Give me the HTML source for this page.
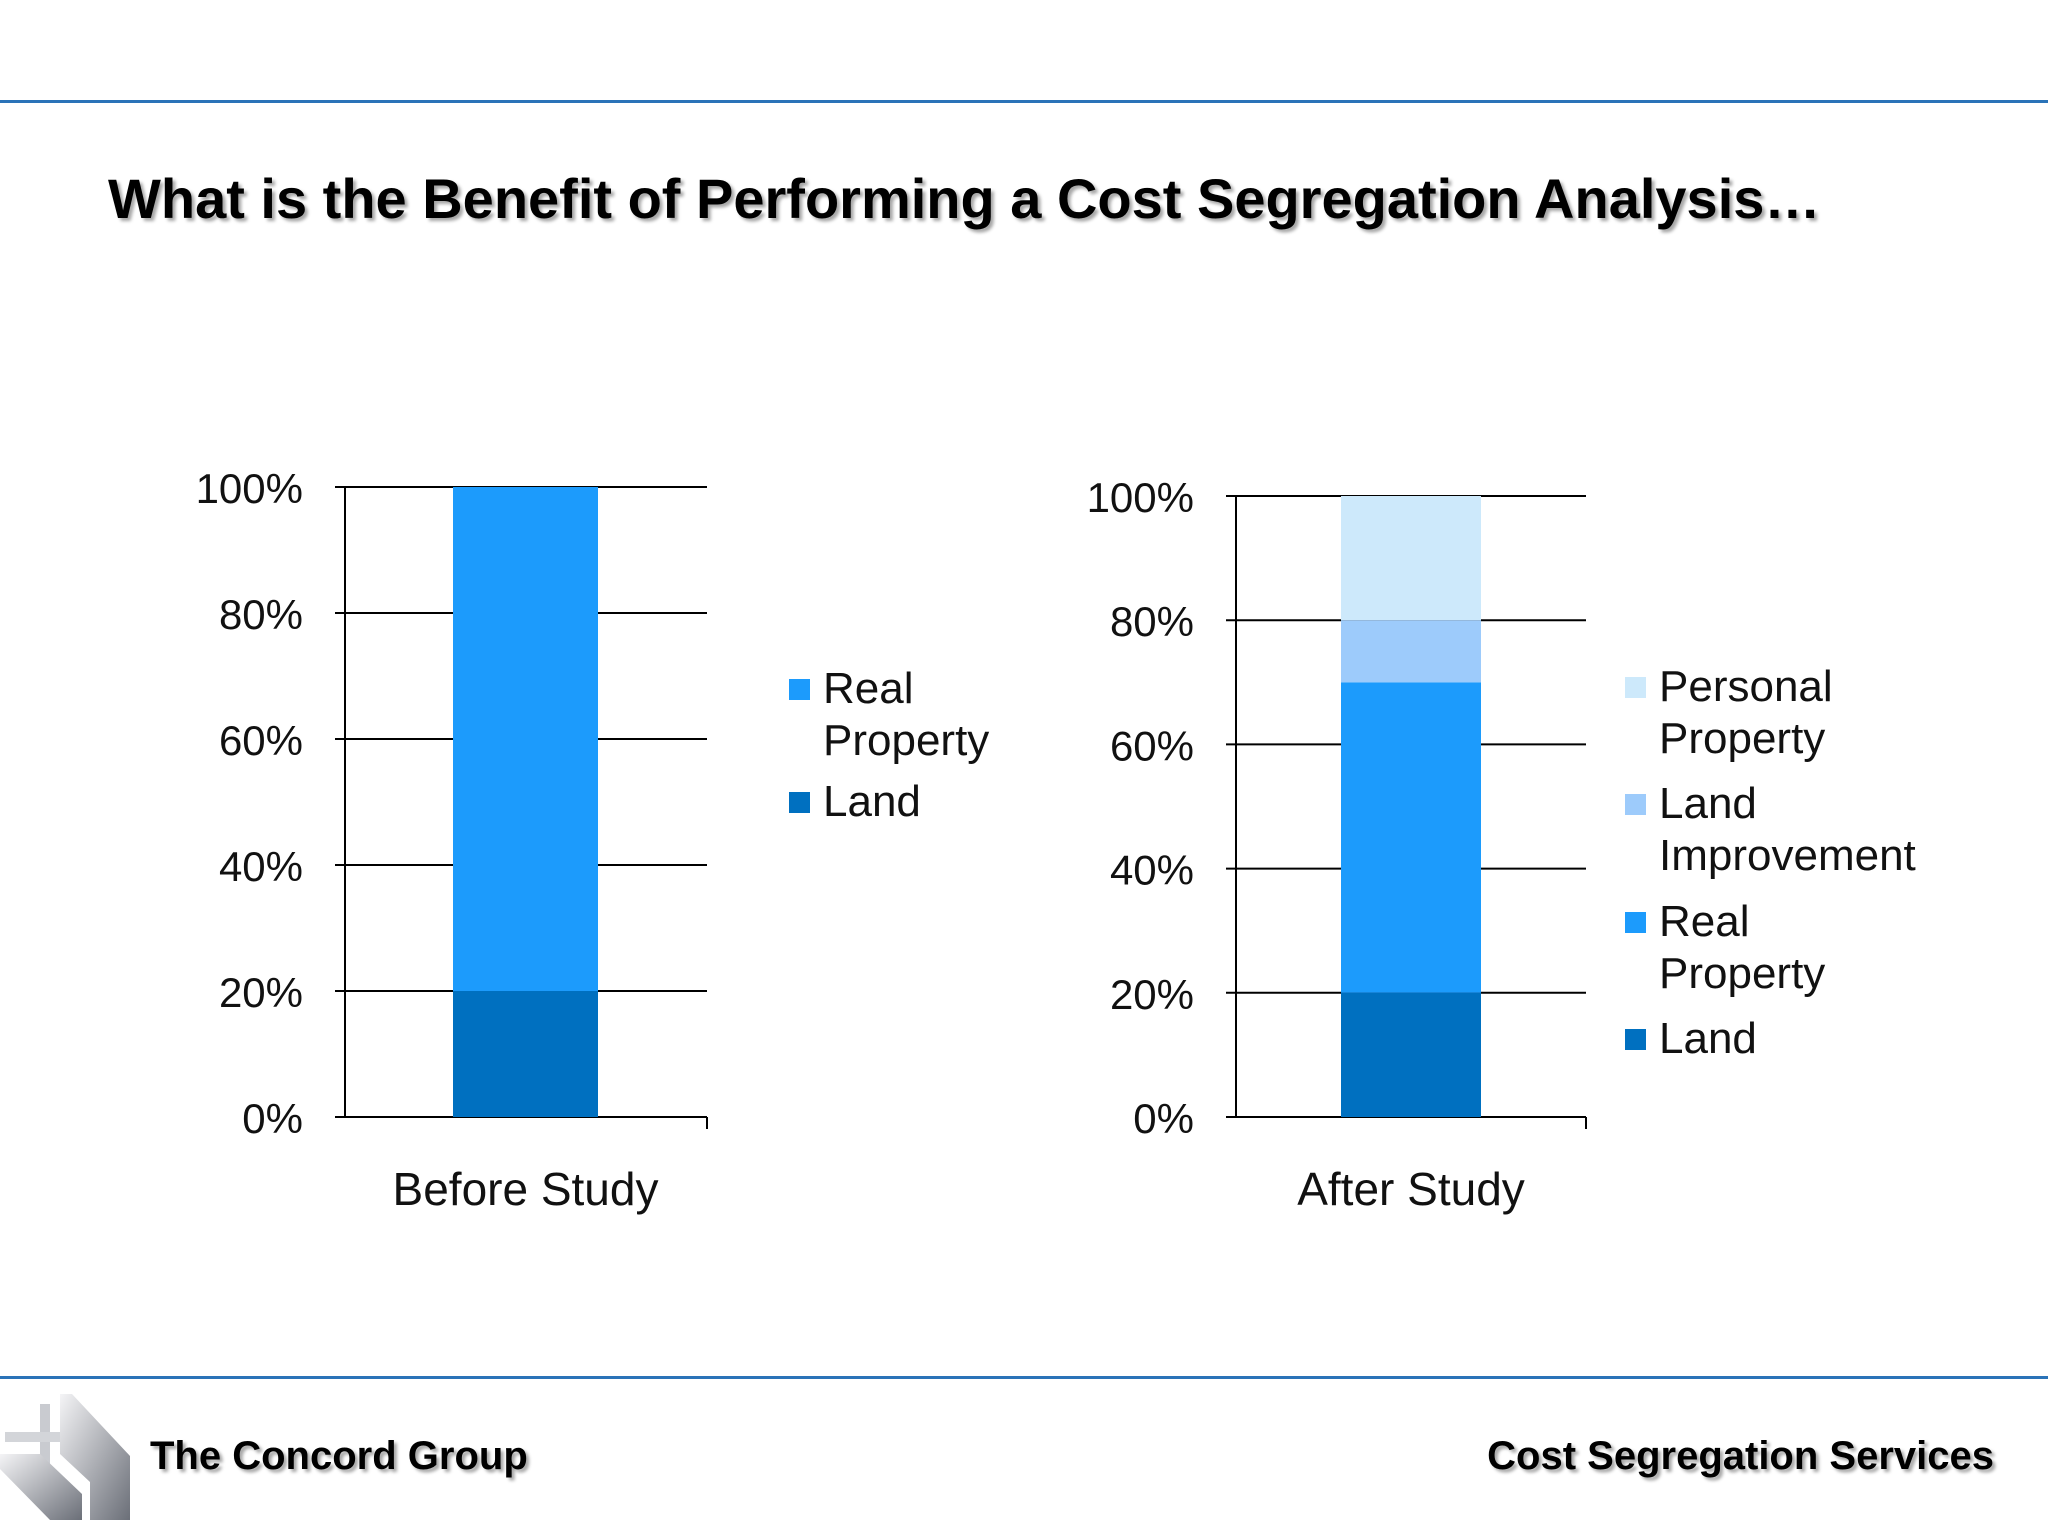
<!DOCTYPE html>
<html><head><meta charset="utf-8">
<style>
html,body{margin:0;padding:0;background:#fff;}
body{width:2048px;height:1536px;overflow:hidden;position:relative;font-family:"Liberation Sans","DejaVu Sans",sans-serif;}
.t{position:absolute;white-space:nowrap;}
</style></head>
<body>
<div style="position:absolute;left:0;top:100px;width:2048px;height:3px;background:#2a73b8"></div>
<div class="t" style="left:108px;top:166px;font-size:56px;font-weight:bold;letter-spacing:0px;text-shadow:3px 3px 3px rgba(0,0,0,0.35)">What is the Benefit of Performing a Cost Segregation Analysis…</div>
<svg id="chart" width="2048" height="1536" style="position:absolute;left:0;top:0" font-family="Liberation Sans, DejaVu Sans, sans-serif"></svg>
<div style="position:absolute;left:0;top:1376px;width:2048px;height:3px;background:#2a73b8"></div>
<svg width="135" height="130" style="position:absolute;left:0;top:1394px">
<defs><linearGradient id="lg" x1="0" y1="0" x2="1" y2="1"><stop offset="0" stop-color="#f4f4f6"/><stop offset="1" stop-color="#6b6f78"/></linearGradient></defs>
<polygon points="40,10 50,10 50,115 40,115" fill="#c9cbd0"/>
<polygon points="5,38 80,38 80,48 5,48" fill="#d3d5d9"/>
<polygon points="72,0 130,62 130,126 90,126 90,88 60,60 60,0" fill="url(#lg)"/>
<polygon points="0,60 40,60 82,100 82,126 50,126 0,75" fill="url(#lg)"/>
</svg>
<div class="t" style="left:150px;top:1434px;font-size:40px;font-weight:bold;text-shadow:3px 3px 3px rgba(0,0,0,0.35)">The Concord Group</div>
<div class="t" style="right:54px;top:1434px;font-size:40px;font-weight:bold;text-shadow:3px 3px 3px rgba(0,0,0,0.35)">Cost Segregation Services</div>
<script>
const ticks = [0, 20, 40, 60, 80, 100];
const tickLabels = ["0%", "20%", "40%", "60%", "80%", "100%"];
const beforeSeries = ["Land", "Real Property"];
const beforeValues = [20, 80];
const beforeCategory = "Before Study";
const afterSeries = ["Land", "Real Property", "Land Improvement", "Personal Property"];
const afterValues = [20, 50, 10, 20];
const afterCategory = "After Study";
const colors = {"Land":"#0070C0","Real Property":"#1C9BFC","Land Improvement":"#9DCBFB","Personal Property":"#CDE9FB"};
const NS = "http://www.w3.org/2000/svg";
const svg = document.getElementById('chart');
function mk(tag, attrs, text){const e=document.createElementNS(NS,tag);for(const k in attrs)e.setAttribute(k,attrs[k]);if(text!==undefined)e.textContent=text;svg.appendChild(e);return e;}
function drawChart(cfg, series, values, category, legendLines){
  const y = v => cfg.y0 + (cfg.y100 - cfg.y0) * v / 100;
  ticks.forEach((t,i)=>{
    const g=mk('line',{x1:cfg.xa-10,x2:cfg.xe,y1:y(t),y2:y(t),stroke:'#000','stroke-width':2});
    
    
    const l=mk('text',{x:cfg.xa-42,y:y(t)+16,'font-size':42,'text-anchor':'end',fill:'#111'},tickLabels[i]);
    
    
  });
  const ax=mk('line',{x1:cfg.xa,x2:cfg.xa,y1:y(0),y2:y(100),stroke:'#000','stroke-width':2});
  
  
  const te=mk('line',{x1:cfg.xe,x2:cfg.xe,y1:y(0),y2:y(0)+12,stroke:'#000','stroke-width':2});
  
  
  let cum=0;
  series.forEach((s,i)=>{
    const r=mk('rect',{x:cfg.bx,width:cfg.bw,y:y(cum+values[i]),height:y(cum)-y(cum+values[i]),fill:colors[s]});
    
    
    cum+=values[i];
  });
  const c=mk('text',{x:cfg.bx+cfg.bw/2,y:y(0)+88,'font-size':46,'text-anchor':'middle',fill:'#111'},category);
  
  
  legendLines.forEach(L=>{
    if(L.s){
      const sq=mk('rect',{x:cfg.lx,y:L.y-24,width:21,height:21,fill:colors[L.s]});
      
      
    }
    const tx=mk('text',{x:cfg.lx+34,y:L.y,'font-size':44,fill:'#111'},L.t);
    
    
  });
}
drawChart({xa:345,xe:707,y0:1117,y100:487,bx:453,bw:145,lx:789}, beforeSeries, beforeValues, beforeCategory,
  [{s:"Real Property",t:"Real",y:703},{t:"Property",y:755},{s:"Land",t:"Land",y:816}]);
drawChart({xa:1236,xe:1586,y0:1117,y100:496,bx:1341,bw:140,lx:1625}, afterSeries, afterValues, afterCategory,
  [{s:"Personal Property",t:"Personal",y:701},{t:"Property",y:753},{s:"Land Improvement",t:"Land",y:818},{t:"Improvement",y:870},{s:"Real Property",t:"Real",y:936},{t:"Property",y:988},{s:"Land",t:"Land",y:1053}]);
</script>
</body></html>
